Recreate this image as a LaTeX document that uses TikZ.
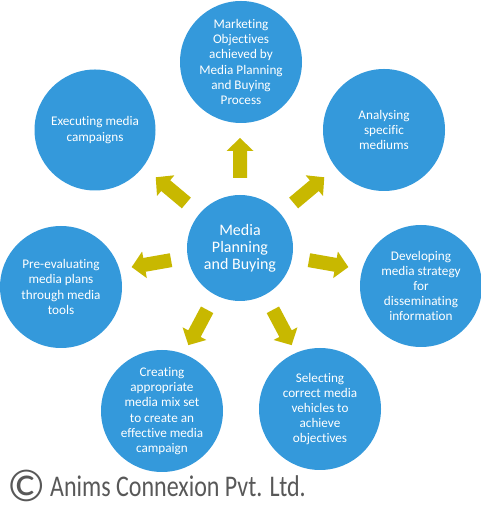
\documentclass[tikz,border=0pt]{standalone}
\usepackage{fontspec}
\setmainfont[Ligatures=NoCommon]{Carlito}
\usetikzlibrary{calc}
\definecolor{circblue}{RGB}{52,153,219}
\definecolor{arrowc}{RGB}{200,184,0}
\definecolor{logogray}{RGB}{88,88,88}
\tikzset{
  bubble/.style={circle, fill=circblue, inner sep=0pt, minimum size=#1, text=white, align=center, font=\fontsize{13.2}{15.2}\selectfont},
  pics/barrow/.style={code={\fill[arrowc] (0,-7) -- (27,-7) -- (27,-13.5) -- (40,0) -- (27,13.5) -- (27,7) -- (0,7) -- cycle;}}
}
\begin{document}
\begin{tikzpicture}[x=1pt,y=1pt]
\useasboundingbox (0,0) rectangle (480,513);
\node[bubble=106pt, font=\fontsize{16}{17}\selectfont] (c) at (240,265) {Media\\Planning\\and Buying};
\node[bubble=122pt] (top) at (241,451) {Marketing\\Objectives\\achieved by\\Media Planning\\and Buying\\Process};
\node[bubble=121pt] (tl) at (95,383) {Executing media\\campaigns};
\node[bubble=122pt] (tr) at (384,383) {Analysing\\specific\\mediums};
\node[bubble=122pt] (l) at (61,226) {Pre-evaluating\\media plans\\through media\\tools};
\node[bubble=122pt] (r) at (421,227) {Developing\\media strategy\\for\\disseminating\\information};
\node[bubble=122pt] (bl) at (162,102) {Creating\\appropriate\\media mix set\\to create an\\effective media\\campaign};
\node[bubble=122pt] (br) at (320,104) {Selecting\\correct media\\vehicles to\\achieve\\objectives};
\foreach \a in {90,140,40,190,-10,-118,-62}{
  \path (c) ++(\a:70) pic[rotate=\a]{barrow};
}
\node[text=logogray, inner sep=0pt, font=\fontsize{46}{46}\selectfont] (copy) at (27,27) {\textcopyright};
\node[text=logogray, anchor=base west, inner sep=0pt, font=\fontsize{24}{24}\selectfont] (brand) at (50,16) {\scalebox{1}[1.25]{Anims Connexion Pvt. Ltd.}};
\end{tikzpicture}
\end{document}
